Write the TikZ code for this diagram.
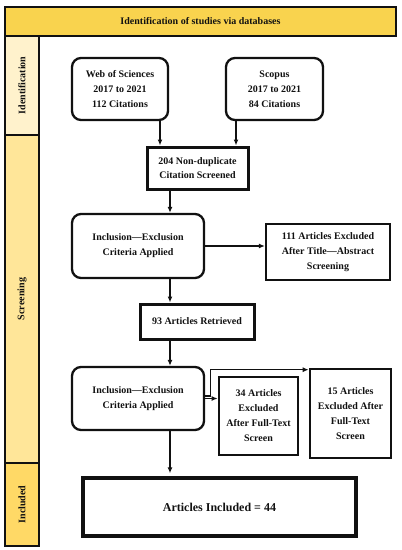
\documentclass[tikz,border=0pt]{standalone}
\usepackage{fontspec}
\setmainfont{Liberation Serif}
\usetikzlibrary{arrows.meta}
\definecolor{bannerc}{HTML}{F9D34E}
\definecolor{idc}{HTML}{FFF2CC}
\definecolor{scrc}{HTML}{FFE699}
\definecolor{incc}{HTML}{FFD966}
\definecolor{linec}{HTML}{111111}
\tikzset{
  txt/.style={font=\bfseries\fontsize{10}{15}\selectfont, align=center, inner sep=0pt, text=linec},
  band/.style={draw=linec, line width=1.5pt, inner sep=0pt},
  roundbox/.style={txt, draw=linec, line width=2.3pt, rounded corners=9pt},
  sqbox/.style={txt, draw=linec, line width=2.2pt},
  thickbox/.style={txt, draw=linec, line width=3pt},
  arr/.style={draw=linec, line width=1.3pt, -{Latex[length=6pt,width=5pt]}},
}
\begin{document}
\begin{tikzpicture}[x=1pt,y=-1pt]
\useasboundingbox (0,0) rectangle (402,550);
% banner and side column
\node (banner) [band, line width=2pt, fill=bannerc, minimum width=391pt, minimum height=29pt] at (200.5,21.5) {};
\node (bannertxt) [txt] at (banner) {Identification of studies via databases};
\node (idbox) [band, fill=idc, minimum width=34pt, minimum height=99pt] at (22,85.5) {};
\node (idtxt) [txt, rotate=90] at (idbox) {Identification};
\node (scrbox) [band, fill=scrc, minimum width=34pt, minimum height=328pt] at (22,299) {};
\node (scrtxt) [txt, rotate=90] at (scrbox) {Screening};
\node (incbox) [band, fill=incc, minimum width=34pt, minimum height=83pt] at (22,504.5) {};
\node (inctxt) [txt, rotate=90] at (incbox) {Included};
\coordinate (spine) at (170,0);
% flow boxes
\node (wos) [roundbox, minimum width=96pt, minimum height=62pt] at (120,89) {Web of Sciences\\2017 to 2021\\112 Citations};
\node (sco) [roundbox, minimum width=97pt, minimum height=62pt] at (274.5,89) {Scopus\\2017 to 2021\\84 Citations};
\node (nd) [thickbox, minimum width=101pt, minimum height=42pt, font=\bfseries\fontsize{10}{14.7}\selectfont] at (197.5,168) {204 Non-duplicate\\Citation Screened};
\node (inc1) [roundbox, minimum width=132pt, minimum height=64pt] at (138,246) {Inclusion—Exclusion\\Criteria Applied};
\node (ex1) [sqbox, minimum width=124pt, minimum height=56pt] at (328,252) {111 Articles Excluded\\After Title—Abstract\\Screening};
\node (r93) [thickbox, minimum width=114pt, minimum height=35pt] at (197,321.5) {93 Articles Retrieved};
\node (inc2) [roundbox, minimum width=132pt, minimum height=63pt] at (138,398.5) {Inclusion—Exclusion\\Criteria Applied};
\node (ex34) [thickbox, line width=2.6pt, minimum width=79pt, minimum height=78pt] at (258.5,416) {34 Articles\\Excluded\\After Full-Text\\Screen};
\node (ex15) [thickbox, line width=2.6pt, minimum width=81pt, minimum height=89pt] at (350.5,413.5) {15 Articles\\Excluded After\\Full-Text\\Screen};
\node (final) [thickbox, line width=3.3pt, minimum width=273pt, minimum height=58pt, font=\bfseries\fontsize{12}{15}\selectfont] at (219.5,507) {Articles Included = 44};
% connectors
\draw[arr] ([xshift=40pt]wos.south) -- ([xshift=40pt]wos.south |- nd.north);
\draw[arr] ([xshift=-38.5pt]sco.south) -- ([xshift=-38.5pt]sco.south |- nd.north);
\draw[arr] (nd.south -| spine) -- (inc1.north -| spine);
\draw[arr] (inc1.east) -- (inc1.east -| ex1.west);
\draw[arr] (inc1.south -| spine) -- (r93.north -| spine);
\draw[arr] (r93.south -| spine) -- (inc2.north -| spine);
\draw[arr] (inc2.east) -- (inc2.east -| ex34.west);
\draw[arr] ([yshift=2.5pt]inc2.east) -- ++(5,0) |- ([yshift=-2pt]ex15.north west);
\draw[arr] (inc2.south -| spine) -- ([yshift=3pt]final.north -| spine);
\end{tikzpicture}
\end{document}
